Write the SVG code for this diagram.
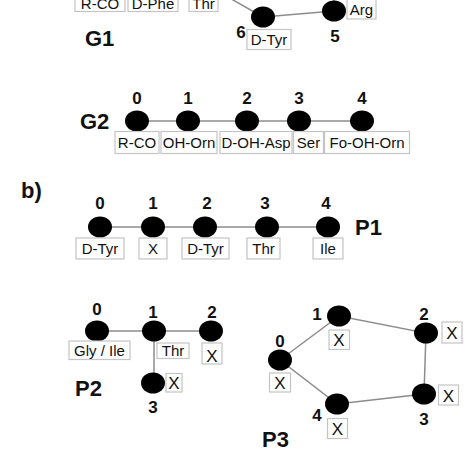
<svg xmlns="http://www.w3.org/2000/svg" width="474" height="474" viewBox="0 0 474 474">
<style>
.bg{fill:#ffffff}
.n{fill:#000000}
.e{stroke:#8c8c8c;stroke-width:1.5;fill:none}
.b{fill:#ffffff;stroke:#c4c4c4;stroke-width:1.2}
.t{font-family:"Liberation Sans",Arial,sans-serif;font-size:15px;fill:#111;text-anchor:middle}
.x{font-family:"Liberation Sans",Arial,sans-serif;font-size:17px;fill:#111;text-anchor:middle}
.num{font-family:"Liberation Sans",Arial,sans-serif;font-size:17px;font-weight:bold;fill:#111;text-anchor:middle}
.lab{font-family:"Liberation Sans",Arial,sans-serif;font-size:22px;font-weight:bold;fill:#111}
</style>
<rect class="bg" x="0" y="0" width="474" height="474"/>
<g id="connectors">
  <line class="e" x1="226" y1="-4" x2="263" y2="17"/>
  <line class="e" x1="263" y1="17" x2="334" y2="11"/>
  <line class="e" x1="334" y1="-2" x2="334" y2="11"/>
  <line class="e" x1="137" y1="121" x2="362" y2="121"/>
  <line class="e" x1="100" y1="227" x2="328" y2="227"/>
  <line class="e" x1="97" y1="331" x2="211" y2="331"/>
  <line class="e" x1="154" y1="331" x2="154" y2="383"/>
  <polygon class="e" points="280,360 339,316 426,333 424,394 337,404"/>
</g>
<g id="labels">
  <text class="lab" x="85" y="46">G1</text>
  <text class="lab" x="80" y="128.5">G2</text>
  <text class="lab" x="21" y="198">b)</text>
  <text class="lab" x="355" y="235">P1</text>
  <text class="lab" x="75" y="396">P2</text>
  <text class="lab" x="262" y="447">P3</text>
</g>
<g id="G1">
  <g id="g1-box-rco"><rect class="b" x="75" y="-10" width="50" height="21.5"/><text class="t" x="100" y="9">R-CO</text></g>
  <g id="g1-box-dphe"><rect class="b" x="128" y="-10" width="50" height="21.5"/><text class="t" x="153" y="9">D-Phe</text></g>
  <g id="g1-box-thr"><rect class="b" x="189" y="-10" width="29" height="21.5"/><text class="t" x="203.5" y="9">Thr</text></g>
  <g id="g1-node6"><ellipse class="n" cx="263" cy="17" rx="12" ry="10.5"/><text class="num" x="241" y="37.5">6</text><rect class="b" x="247" y="29.5" width="44" height="20"/><text class="t" x="269" y="45">D-Tyr</text></g>
  <g id="g1-node5"><ellipse class="n" cx="334" cy="11" rx="12" ry="10.5"/><text class="num" x="335" y="42">5</text><rect class="b" x="347" y="-2" width="29" height="21"/><text class="t" x="361.5" y="15">Arg</text></g>
</g>
<g id="G2">
  <g id="g2-node0"><ellipse class="n" cx="137" cy="121" rx="12" ry="10.5"/><text class="num" x="137" y="104">0</text><rect class="b" x="115" y="131.5" width="44" height="22"/><text class="t" x="137" y="147.5">R-CO</text></g>
  <g id="g2-node1"><ellipse class="n" cx="188" cy="121" rx="12" ry="10.5"/><text class="num" x="188" y="104">1</text><rect class="b" x="161" y="131.5" width="56" height="22"/><text class="t" x="189" y="147.5">OH-Orn</text></g>
  <g id="g2-node2"><ellipse class="n" cx="247" cy="121" rx="12" ry="10.5"/><text class="num" x="247" y="104">2</text><rect class="b" x="220" y="131.5" width="72" height="22"/><text class="t" x="256" y="147.5">D-OH-Asp</text></g>
  <g id="g2-node3"><ellipse class="n" cx="299" cy="121" rx="12" ry="10.5"/><text class="num" x="299" y="104">3</text><rect class="b" x="293.5" y="131.5" width="30" height="22"/><text class="t" x="308.5" y="147.5">Ser</text></g>
  <g id="g2-node4"><ellipse class="n" cx="362" cy="121" rx="12" ry="10.5"/><text class="num" x="362" y="104">4</text><rect class="b" x="324.5" y="131.5" width="85" height="22"/><text class="t" x="367" y="147.5">Fo-OH-Orn</text></g>
</g>
<g id="P1">
  <g id="p1-node0"><ellipse class="n" cx="100" cy="227" rx="12" ry="10.5"/><text class="num" x="100" y="209">0</text><rect class="b" x="76" y="238" width="48" height="21"/><text class="t" x="100" y="254">D-Tyr</text></g>
  <g id="p1-node1"><ellipse class="n" cx="153" cy="227" rx="12" ry="10.5"/><text class="num" x="153" y="209">1</text><rect class="b" x="139" y="238" width="28" height="21"/><text class="t" x="153" y="254">X</text></g>
  <g id="p1-node2"><ellipse class="n" cx="205" cy="227" rx="12" ry="10.5"/><text class="num" x="207" y="209">2</text><rect class="b" x="182" y="238" width="47" height="21"/><text class="t" x="205.5" y="254">D-Tyr</text></g>
  <g id="p1-node3"><ellipse class="n" cx="267" cy="227" rx="12" ry="10.5"/><text class="num" x="265" y="209">3</text><rect class="b" x="247" y="238" width="33" height="21"/><text class="t" x="263.5" y="254">Thr</text></g>
  <g id="p1-node4"><ellipse class="n" cx="328" cy="227" rx="12" ry="10.5"/><text class="num" x="326" y="209">4</text><rect class="b" x="313" y="238" width="30" height="21"/><text class="t" x="328" y="254">Ile</text></g>
</g>
<g id="P2">
  <g id="p2-node0"><ellipse class="n" cx="97" cy="331" rx="12" ry="10.5"/><text class="num" x="97" y="315">0</text><rect class="b" x="69" y="341" width="61" height="18.5"/><text class="t" x="99.5" y="356">Gly / Ile</text></g>
  <g id="p2-node1"><ellipse class="n" cx="154" cy="331" rx="12" ry="10.5"/><text class="num" x="153" y="318">1</text><rect class="b" x="157" y="343" width="32" height="15.5"/><text class="t" x="173" y="356">Thr</text></g>
  <g id="p2-node2"><ellipse class="n" cx="211" cy="331" rx="12" ry="10.5"/><text class="num" x="212" y="318">2</text><rect class="b" x="202" y="343" width="20" height="21"/><text class="x" x="212" y="361.5">X</text></g>
  <g id="p2-node3"><ellipse class="n" cx="153" cy="383" rx="12" ry="10.5"/><text class="num" x="153" y="413">3</text><rect class="b" x="166" y="373.5" width="16" height="18.5"/><text class="x" x="174" y="389">X</text></g>
</g>
<g id="P3">
  <g id="p3-node0"><ellipse class="n" cx="280" cy="360" rx="12" ry="10.5"/><text class="num" x="280" y="347">0</text><rect class="b" x="269.5" y="373" width="21" height="19"/><text class="x" x="280" y="389">X</text></g>
  <g id="p3-node1"><ellipse class="n" cx="339" cy="316" rx="12" ry="10.5"/><text class="num" x="317" y="320">1</text><rect class="b" x="329" y="330" width="20.5" height="19.5"/><text class="x" x="339" y="346">X</text></g>
  <g id="p3-node2"><ellipse class="n" cx="426" cy="333" rx="12" ry="10.5"/><text class="num" x="424" y="319.5">2</text><rect class="b" x="442" y="322" width="20" height="21"/><text class="x" x="452" y="339">X</text></g>
  <g id="p3-node3"><ellipse class="n" cx="424" cy="394" rx="12" ry="10.5"/><text class="num" x="424" y="425">3</text><rect class="b" x="438.5" y="385" width="20" height="20"/><text class="x" x="448.5" y="402">X</text></g>
  <g id="p3-node4"><ellipse class="n" cx="337" cy="404" rx="12" ry="10.5"/><text class="num" x="317" y="421">4</text><rect class="b" x="327.5" y="418.5" width="20" height="20"/><text class="x" x="337.5" y="435">X</text></g>
</g>
</svg>
